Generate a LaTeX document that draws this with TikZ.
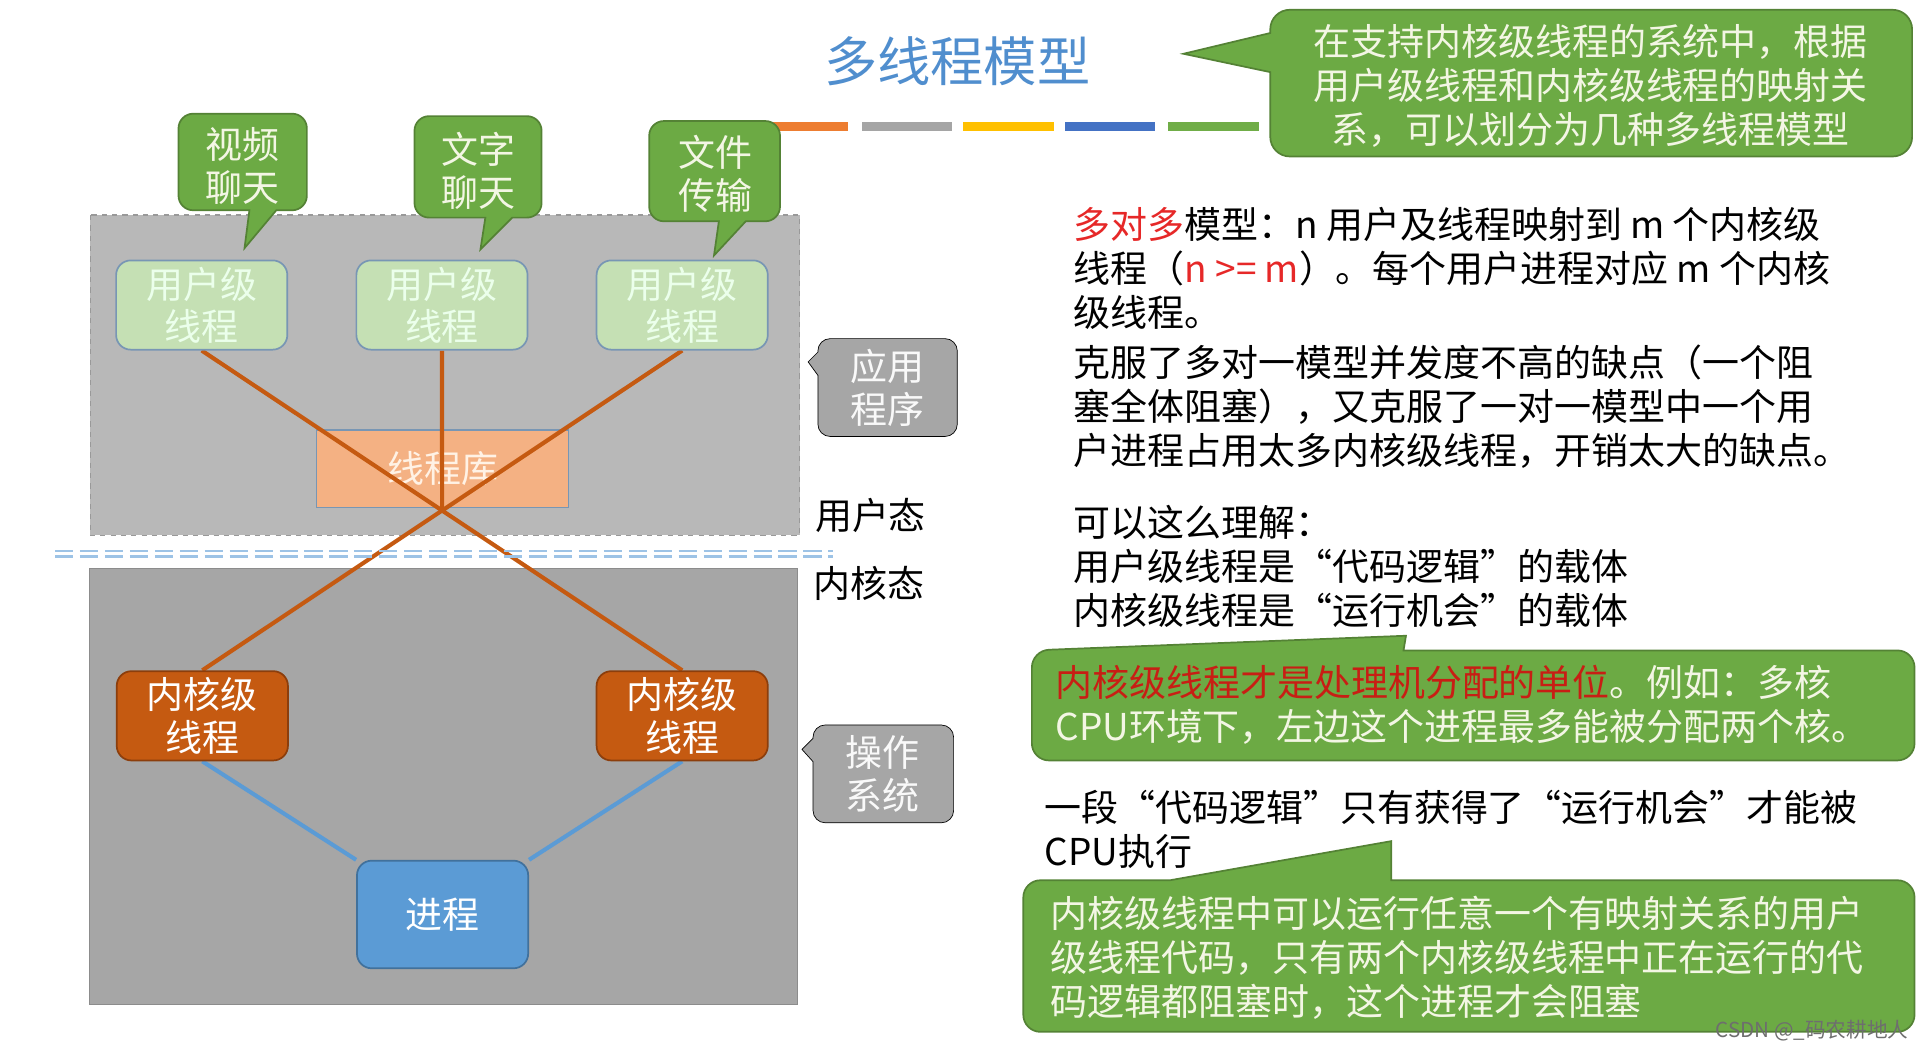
\documentclass[tikz,border=0pt]{standalone}
\usepackage{fontspec}
\setmainfont{Noto Sans CJK SC}
\usetikzlibrary{backgrounds}

\definecolor{titleblue}{RGB}{80,142,206}
\definecolor{barorange}{RGB}{237,125,49}
\definecolor{bargray}{RGB}{165,165,165}
\definecolor{baryellow}{RGB}{255,192,0}
\definecolor{barblue}{RGB}{68,114,196}
\definecolor{bargreen}{RGB}{112,173,71}
\definecolor{callgreen}{RGB}{108,170,68}
\definecolor{calledge}{RGB}{84,130,53}
\definecolor{callgray}{RGB}{166,166,166}
\definecolor{cream}{RGB}{243,246,228}
\definecolor{panelup}{RGB}{184,184,184}
\definecolor{paneldown}{RGB}{166,166,166}
\definecolor{usrfill}{RGB}{197,224,180}
\definecolor{usredge}{RGB}{120,150,180}
\definecolor{libfill}{RGB}{244,177,131}
\definecolor{kernfill}{RGB}{197,90,17}
\definecolor{kernedge}{RGB}{140,62,12}
\definecolor{procfill}{RGB}{91,155,213}
\definecolor{procedge}{RGB}{65,113,156}
\definecolor{splitblue}{RGB}{157,195,230}
\definecolor{redtxt}{RGB}{230,40,40}
\definecolor{darkredtxt}{RGB}{200,30,20}
\definecolor{marktxt}{RGB}{110,110,110}

\newcommand\txtsize{\fontsize{21.5pt}{25.6pt}\selectfont}

\begin{document}
\begin{tikzpicture}[x=0.025cm, y=-0.025cm,
    box/.style={rectangle, rounded corners=0.3cm, minimum width=3.5cm, minimum height=1.825cm, inner sep=0pt, align=center, font=\fontsize{21.5pt}{24.5pt}\selectfont},
    usrthread/.style={box, fill=usrfill, draw=usredge, line width=1pt, text=white!92!green},
    kernthread/.style={box, fill=kernfill, draw=kernedge, line width=1pt, text=white},
    bubble/.style={fill=callgreen, draw=calledge, line width=1pt},
    graybubble/.style={fill=callgray},
    bubbletxt/.style={inner sep=0pt, align=center, text=cream, font=\fontsize{21.5pt}{25pt}\selectfont},
    para/.style={inner sep=0pt, align=left, anchor=west, font=\txtsize},
    link/.style={line width=2.4pt, kernfill},
    blink/.style={line width=2.4pt, procfill}
]
\useasboundingbox (0,0) rectangle (1568,859);

% Title and colour bars
\node[font=\fontsize{31pt}{36pt}\selectfont, text=titleblue, inner sep=0pt] (title) at (783,50) {多线程模型};
\foreach \xa/\xb/\col in {627/694/barorange, 705/779/bargray, 788/862/baryellow, 871/945/barblue, 955/1030/bargreen}
  \fill[\col] (\xa,100) rectangle (\xb,107);

% Top callout
\draw[bubble] (1039,59) [rounded corners=0.4cm] -- (1039,128) -- (1564,128) -- (1564,8) -- (1039,8) [sharp corners] -- (1039,27) -- (968,44) -- cycle;
\node[bubbletxt, font=\fontsize{21.5pt}{25.6pt}\selectfont] (intro) at (1301,70) {在支持内核级线程的系统中，根据\\用户级线程和内核级线程的映射关\\系，可以划分为几种多线程模型};

% Panels, library and links
\begin{scope}[on background layer]
  \fill[panelup] (74,176) rectangle (654,438);
  \draw[gray!80, dashed, line width=0.8pt] (74,176) rectangle (654,438);
  \fill[paneldown] (73,465) rectangle (652,822);
  \draw[gray!90, line width=0.6pt] (73,465) rectangle (652,822);
  \node[rectangle, fill=libfill, draw=usredge, line width=1pt, minimum width=5.15cm, minimum height=1.575cm, inner sep=0pt, font=\fontsize{21.5pt}{24.5pt}\selectfont, text=white!90!orange] (lib) at (362,383.5) {线程库};
\end{scope}

% User-level threads
\node[usrthread] (u1) at (165,249.5) {用户级\\线程};
\node[usrthread] (u2) at (361.5,249.5) {用户级\\线程};
\node[usrthread] (u3) at (558,249.5) {用户级\\线程};

% Kernel-level threads and process
\node[kernthread] (k1) at (165.5,585.5) {内核级\\线程};
\node[kernthread] (k2) at (558,585.5) {内核级\\线程};
\node[box, fill=procfill, draw=procedge, line width=1pt, text=white, minimum height=2.2cm] (proc) at (362,748) {进程};

\begin{scope}[on background layer]
  \draw[link] (u1.south) -- (k2.north);
  \draw[link] (u3.south) -- (k1.north);
  \coordinate (cross) at (intersection of u1.south--k2.north and u3.south--k1.north);
  \draw[link] (u2.south) -- (cross);
  \draw[blink] (k1.south) -- (proc.north west);
  \draw[blink] (k2.south) -- (proc.north east);
\end{scope}

% Speech bubbles
\draw[bubble] (204,172) [rounded corners=0.3cm] -- (146,172) -- (146,93) -- (251,93) -- (251,172) [sharp corners] -- (226,172) -- (200,203) -- cycle;
\node[bubbletxt] (video) at (198.5,136) {视频\\聊天};
\draw[bubble] (397,178) [rounded corners=0.3cm] -- (339,178) -- (339,95) -- (443,95) -- (443,178) [sharp corners] -- (419,178) -- (393,204) -- cycle;
\node[bubbletxt] (chat) at (391,140) {文字\\聊天};
\draw[bubble] (588,181) [rounded corners=0.3cm] -- (531,181) -- (531,99) -- (638,99) -- (638,181) [sharp corners] -- (610,181) -- (584,209) -- cycle;
\node[bubbletxt] (file) at (585,142) {文件\\传输};

% User / kernel split
\draw[splitblue, line width=1.5pt, dash pattern=on 0.37cm off 0.14cm] (45,450.7) -- (681,450.7);
\draw[splitblue, line width=1.5pt, dash pattern=on 0.37cm off 0.14cm] (45,455.2) -- (681,455.2);
\node[font=\txtsize, inner sep=0pt] (usermode) at (712,422) {用户态};
\node[font=\txtsize, inner sep=0pt] (kernmode) at (711,477) {内核态};

% Gray callouts
\draw[graybubble] (669,307) [rounded corners=0.25cm] -- (669,357) -- (783,357) -- (783,277) -- (669,277) [sharp corners] -- (669,288) -- (661,296) -- cycle;
\node[bubbletxt, text=white!95!gray] (app) at (726,317) {应用\\程序};
\draw[graybubble] (665,623) [rounded corners=0.25cm] -- (665,673) -- (780,673) -- (780,593) -- (665,593) [sharp corners] -- (665,604) -- (656,613) -- cycle;
\node[bubbletxt, text=white!95!gray] (os) at (722,633) {操作\\系统};

% Explanation text
\node[para] (manytomany) at (878,219.5) {{\color{redtxt}多对多}模型：n 用户及线程映射到 m 个内核级\\线程（{\color{redtxt}n >= m}）。每个用户进程对应 m 个内核\\级线程。};
\node[para] (merits) at (878,332.5) {克服了多对一模型并发度不高的缺点（一个阻\\塞全体阻塞），又克服了一对一模型中一个用\\户进程占用太多内核级线程，开销太大的缺点。};
\node[para] (understand) at (878,463.5) {可以这么理解：\\用户级线程是“代码逻辑”的载体\\内核级线程是“运行机会”的载体};

\draw[bubble] (1148,532) [rounded corners=0.35cm] -- (1566,532) -- (1566,622) -- (844,622) -- (844,532) [sharp corners] -- (1150,520) -- cycle;
\node[para, text=cream] (unit) at (863,576.5) {{\color{darkredtxt}内核级线程才是处理机分配的单位}。例如：多核\\CPU环境下，左边这个进程最多能被分配两个核。};

\node[para] (logic) at (854,678.5) {一段“代码逻辑”只有获得了“运行机会”才能被\\CPU执行};

\draw[bubble] (1138,720) [rounded corners=0.35cm] -- (1566,720) -- (1566,844) -- (837,844) -- (837,720) [sharp corners] -- (957,720) -- (1138,688) -- cycle;
\node[para, text=cream] (block) at (859,783.5) {内核级线程中可以运行任意一个有映射关系的用户\\级线程代码，只有两个内核级线程中正在运行的代\\码逻辑都阻塞时，这个进程才会阻塞};

\node[font=\fontsize{12pt}{14pt}\selectfont, text=marktxt, inner sep=0pt] (mark) at (1482,843) {CSDN @\_码农耕地人};
\end{tikzpicture}
\end{document}
